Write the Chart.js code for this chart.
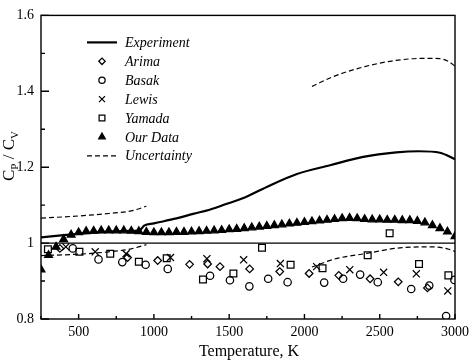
<!DOCTYPE html>
<html>
<head>
<meta charset="utf-8">
<style>
  html, body { margin: 0; padding: 0; background: #fff; }
  #wrap { width: 474px; height: 363px; position: relative; }
</style>
<script src="https://cdn.jsdelivr.net/npm/chart.js@4.4.1/dist/chart.umd.min.js"></script>
</head>
<body>
<div id="wrap"><canvas id="cpcvChart" width="474" height="363"></canvas></div>
<script>
// ========== 数据 ==========
// Experiment curve
const expT = [250, 400, 550, 700, 850, 905, 935, 1000, 1150, 1260, 1370, 1480, 1590, 1750, 1950, 2170, 2390, 2610, 2760, 2900, 3000];
const expV = [1.015, 1.021, 1.026, 1.030, 1.032, 1.033, 1.046, 1.052, 1.065, 1.077, 1.088, 1.103, 1.118, 1.148, 1.182, 1.205, 1.227, 1.239, 1.242, 1.238, 1.221];

// Uncertainty bands (four dashed pieces)
const uncLeftT = [250, 400, 550, 700, 850, 950];
const uncLeftHi = [1.066, 1.069, 1.073, 1.078, 1.085, 1.097];
const uncLeftLo = [0.967, 0.969, 0.972, 0.977, 0.985, 0.996];
const uncRightHiT = [2050, 2200, 2400, 2600, 2800, 2900, 2960, 3000];
const uncRightHi = [1.413, 1.440, 1.465, 1.481, 1.487, 1.486, 1.478, 1.466];
const uncRightLoT = [2050, 2200, 2400, 2650, 2850, 2950, 3000];
const uncRightLo = [0.937, 0.958, 0.972, 0.988, 0.990, 0.985, 0.978];

// Reference level
const refT = [250, 3000];
const refV = [1, 1];

const arimaT = [375, 825, 1025, 1237, 1357, 1439, 1636, 1836, 2031, 2228, 2436, 2623, 2817];
const arimaV = [0.986, 0.962, 0.954, 0.944, 0.945, 0.938, 0.932, 0.925, 0.920, 0.915, 0.906, 0.898, 0.882];

const basakT = [461, 632, 790, 945, 1092, 1373, 1505, 1634, 1759, 1888, 2131, 2257, 2370, 2487, 2709, 2829, 2941, 2996];
const basakV = [0.986, 0.957, 0.950, 0.943, 0.932, 0.914, 0.902, 0.886, 0.906, 0.897, 0.896, 0.906, 0.917, 0.897, 0.879, 0.888, 0.808, 0.903];

const lewisT = [415, 610, 815, 1110, 1352, 1596, 1840, 2081, 2301, 2526, 2743, 2952];
const lewisV = [0.990, 0.977, 0.972, 0.962, 0.959, 0.956, 0.946, 0.938, 0.930, 0.923, 0.919, 0.874];

const yamadaT = [296, 505, 710, 900, 1085, 1326, 1528, 1718, 1908, 2120, 2420, 2566, 2761, 2956];
const yamadaV = [0.984, 0.977, 0.972, 0.951, 0.960, 0.904, 0.920, 0.988, 0.943, 0.934, 0.968, 1.026, 0.945, 0.915];

// Our Data, every 50 K from 250 to 3000
const oursT = [250, 300, 350, 400, 450, 500, 550, 600, 650, 700, 750, 800, 850, 900, 950, 1000, 1050, 1100, 1150, 1200,
    1250, 1300, 1350, 1400, 1450, 1500, 1550, 1600, 1650, 1700, 1750, 1800, 1850, 1900, 1950, 2000, 2050, 2100, 2150, 2200,
    2250, 2300, 2350, 2400, 2450, 2500, 2550, 2600, 2650, 2700, 2750, 2800, 2850, 2900, 2950, 3000];
const oursV = [0.930, 0.968, 0.990, 1.010, 1.022, 1.028, 1.031, 1.032, 1.033, 1.033, 1.033, 1.033, 1.032, 1.031, 1.029, 1.028, 1.028, 1.028, 1.029, 1.029,
    1.030, 1.031, 1.032, 1.033, 1.034, 1.036, 1.037, 1.039, 1.041, 1.043, 1.045, 1.047, 1.049, 1.051, 1.053, 1.055, 1.057, 1.059, 1.061, 1.063,
    1.065, 1.066, 1.065, 1.063, 1.062, 1.062, 1.061, 1.061, 1.060, 1.060, 1.058, 1.054, 1.047, 1.039, 1.030, 1.018];

// Axis ticks
const xMin = 250, xMax = 3000, xStep = 250;
const yMin = 0.8, yMax = 1.6, yStep = 0.1;
const xLabelTicks = [500, 1000, 1500, 2000, 2500, 3000];
const yLabelTicks = [0.8, 1, 1.2, 1.4, 1.6];

const SERIF = "'Liberation Serif', 'Times New Roman', serif";

function pts(xs, ys) { return xs.map((x, i) => ({ x: x, y: ys[i] })); }

function lineSet(label, xs, ys, width, dash) {
    return {
        label: label, data: pts(xs, ys), showLine: true, pointRadius: 0,
        borderColor: '#000', borderWidth: width, borderDash: dash || [],
        cubicInterpolationMode: 'monotone', clip: 0, order: 2
    };
}

function markSet(label, xs, ys, style, r, fill) {
    return {
        label: label, data: pts(xs, ys), showLine: false,
        pointStyle: style, pointRadius: r, pointHoverRadius: r,
        borderColor: '#000', borderWidth: 1.25,
        pointBackgroundColor: fill ? '#000' : 'rgba(0,0,0,0)',
        backgroundColor: fill ? '#000' : 'rgba(0,0,0,0)',
        clip: 0, order: 1
    };
}

// ========== 内向刻度 + 边框 ==========
const frameTicks = {
    id: 'frameTicks',
    afterDraw(chart) {
        const ctx = chart.ctx, a = chart.chartArea;
        const xs = chart.scales.x, ys = chart.scales.y;
        ctx.save();
        ctx.strokeStyle = '#000';
        ctx.lineWidth = 1.4;
        ctx.strokeRect(a.left, a.top, a.right - a.left, a.bottom - a.top);
        ctx.beginPath();
        xs.ticks.forEach(t => {
            const px = xs.getPixelForValue(t.value);
            const major = xLabelTicks.some(v => Math.abs(v - t.value) < 1e-6);
            ctx.moveTo(px, a.bottom);
            ctx.lineTo(px, a.bottom - (major ? 5 : 3));
        });
        ys.ticks.forEach(t => {
            const py = ys.getPixelForValue(t.value);
            const major = yLabelTicks.some(v => Math.abs(v - t.value) < 1e-6);
            ctx.moveTo(a.left, py);
            ctx.lineTo(a.left + (major ? 8 : 4), py);
        });
        ctx.stroke();
        ctx.restore();
    }
};

// ========== 轴标题 ==========
const axisTitles = {
    id: 'axisTitles',
    afterDraw(chart) {
        const ctx = chart.ctx, a = chart.chartArea;
        ctx.save();
        ctx.fillStyle = '#000';
        // x title
        ctx.font = '16px ' + SERIF;
        ctx.textAlign = 'center';
        ctx.textBaseline = 'alphabetic';
        ctx.fillText('Temperature, K', (a.left + a.right) / 2 + 1, 356);

        // y title: C_P / C_V, rotated
        const big = '17px ' + SERIF, small = '11px ' + SERIF;
        const parts = [['C', big, 0], ['P', small, 4], [' / ', big, 0], ['C', big, 0], ['V', small, 4]];
        let total = 0;
        parts.forEach(p => { ctx.font = p[1]; total += ctx.measureText(p[0]).width; });
        ctx.translate(14, 156);
        ctx.rotate(-Math.PI / 2);
        ctx.textAlign = 'left';
        let cx = -total / 2;
        parts.forEach(p => {
            ctx.font = p[1];
            ctx.fillText(p[0], cx, p[2]);
            cx += ctx.measureText(p[0]).width;
        });
        ctx.restore();
    }
};

// ========== 图内图例 ==========
const legendItems = [
    { text: 'Experiment', ds: 0, kind: 'line' },
    { text: 'Arima', ds: 6, kind: 'point' },
    { text: 'Basak', ds: 7, kind: 'point' },
    { text: 'Lewis', ds: 8, kind: 'point' },
    { text: 'Yamada', ds: 9, kind: 'point' },
    { text: 'Our Data', ds: 10, kind: 'point' },
    { text: 'Uncertainty', ds: 2, kind: 'line' }
];

const innerLegend = {
    id: 'innerLegend',
    afterDraw(chart) {
        const ctx = chart.ctx, a = chart.chartArea;
        const x0 = a.left + 46, y0 = a.top + 27, row = 18.9;
        ctx.save();
        legendItems.forEach((it, i) => {
            const ds = chart.data.datasets[it.ds];
            const y = y0 + i * row;
            if (it.kind === 'line') {
                ctx.save();
                ctx.strokeStyle = ds.borderColor;
                ctx.lineWidth = ds.borderWidth;
                ctx.setLineDash(ds.borderDash || []);
                ctx.beginPath();
                ctx.moveTo(x0, y);
                ctx.lineTo(x0 + 30, y);
                ctx.stroke();
                ctx.restore();
            } else {
                ctx.save();
                ctx.strokeStyle = ds.borderColor;
                ctx.fillStyle = ds.pointBackgroundColor;
                ctx.lineWidth = ds.borderWidth;
                Chart.helpers.drawPoint(ctx, {
                    pointStyle: ds.pointStyle, radius: ds.pointRadius * 0.85, rotation: 0, borderWidth: ds.borderWidth
                }, x0 + 15, y);
                ctx.restore();
            }
            ctx.fillStyle = '#000';
            ctx.font = 'italic 14px ' + SERIF;
            ctx.textAlign = 'left';
            ctx.textBaseline = 'middle';
            ctx.fillText(it.text, x0 + 38, y + 1);
        });
        ctx.restore();
    }
};

// ========== 图表 ==========
function renderCpCvChart() {
    const ctx = document.getElementById('cpcvChart').getContext('2d');
    new Chart(ctx, {
        type: 'scatter',
        data: {
            datasets: [
                lineSet('Experiment', expT, expV, 2.2),                       // 0
                lineSet('ref', refT, refV, 1.3),                              // 1
                lineSet('Uncertainty', uncLeftT, uncLeftHi, 1.2, [5, 3]),     // 2
                lineSet('unc2', uncLeftT, uncLeftLo, 1.2, [5, 3]),            // 3
                lineSet('unc3', uncRightHiT, uncRightHi, 1.2, [5, 3]),        // 4
                lineSet('unc4', uncRightLoT, uncRightLo, 1.2, [5, 3]),        // 5
                markSet('Arima', arimaT, arimaV, 'rectRot', 3.8, false),      // 6
                markSet('Basak', basakT, basakV, 'circle', 3.7, false),       // 7
                markSet('Lewis', lewisT, lewisV, 'crossRot', 5, false),       // 8
                markSet('Yamada', yamadaT, yamadaV, 'rect', 4.8, false),      // 9
                markSet('Our Data', oursT, oursV, 'triangle', 4.5, true)      // 10
            ]
        },
        options: {
            responsive: false,
            animation: false,
            events: [],
            layout: { padding: { top: 7, right: 15, left: 0, bottom: 0 } },
            scales: {
                x: {
                    type: 'linear', min: xMin, max: xMax,
                    grid: { display: false, drawTicks: false },
                    border: { display: false },
                    afterFit: s => { s.height = 44; },
                    ticks: {
                        stepSize: xStep, autoSkip: false, maxRotation: 0, padding: 5,
                        color: '#000', font: { family: SERIF, size: 14 },
                        callback: v => xLabelTicks.some(t => Math.abs(t - v) < 1e-6) ? String(v) : ''
                    }
                },
                y: {
                    type: 'linear', min: yMin, max: yMax,
                    grid: { display: false, drawTicks: false },
                    border: { display: false },
                    afterFit: s => { s.width = 41; },
                    ticks: {
                        stepSize: yStep, autoSkip: false, padding: 7,
                        color: '#000', font: { family: SERIF, size: 14 },
                        callback: v => {
                            const r = Math.round(v * 10) / 10;
                            return yLabelTicks.some(t => Math.abs(t - r) < 1e-6) ? String(r) : '';
                        }
                    }
                }
            },
            plugins: {
                legend: { display: false },
                tooltip: { enabled: false }
            }
        },
        plugins: [frameTicks, axisTitles, innerLegend]
    });
}

renderCpCvChart();
</script>
</body>
</html>
